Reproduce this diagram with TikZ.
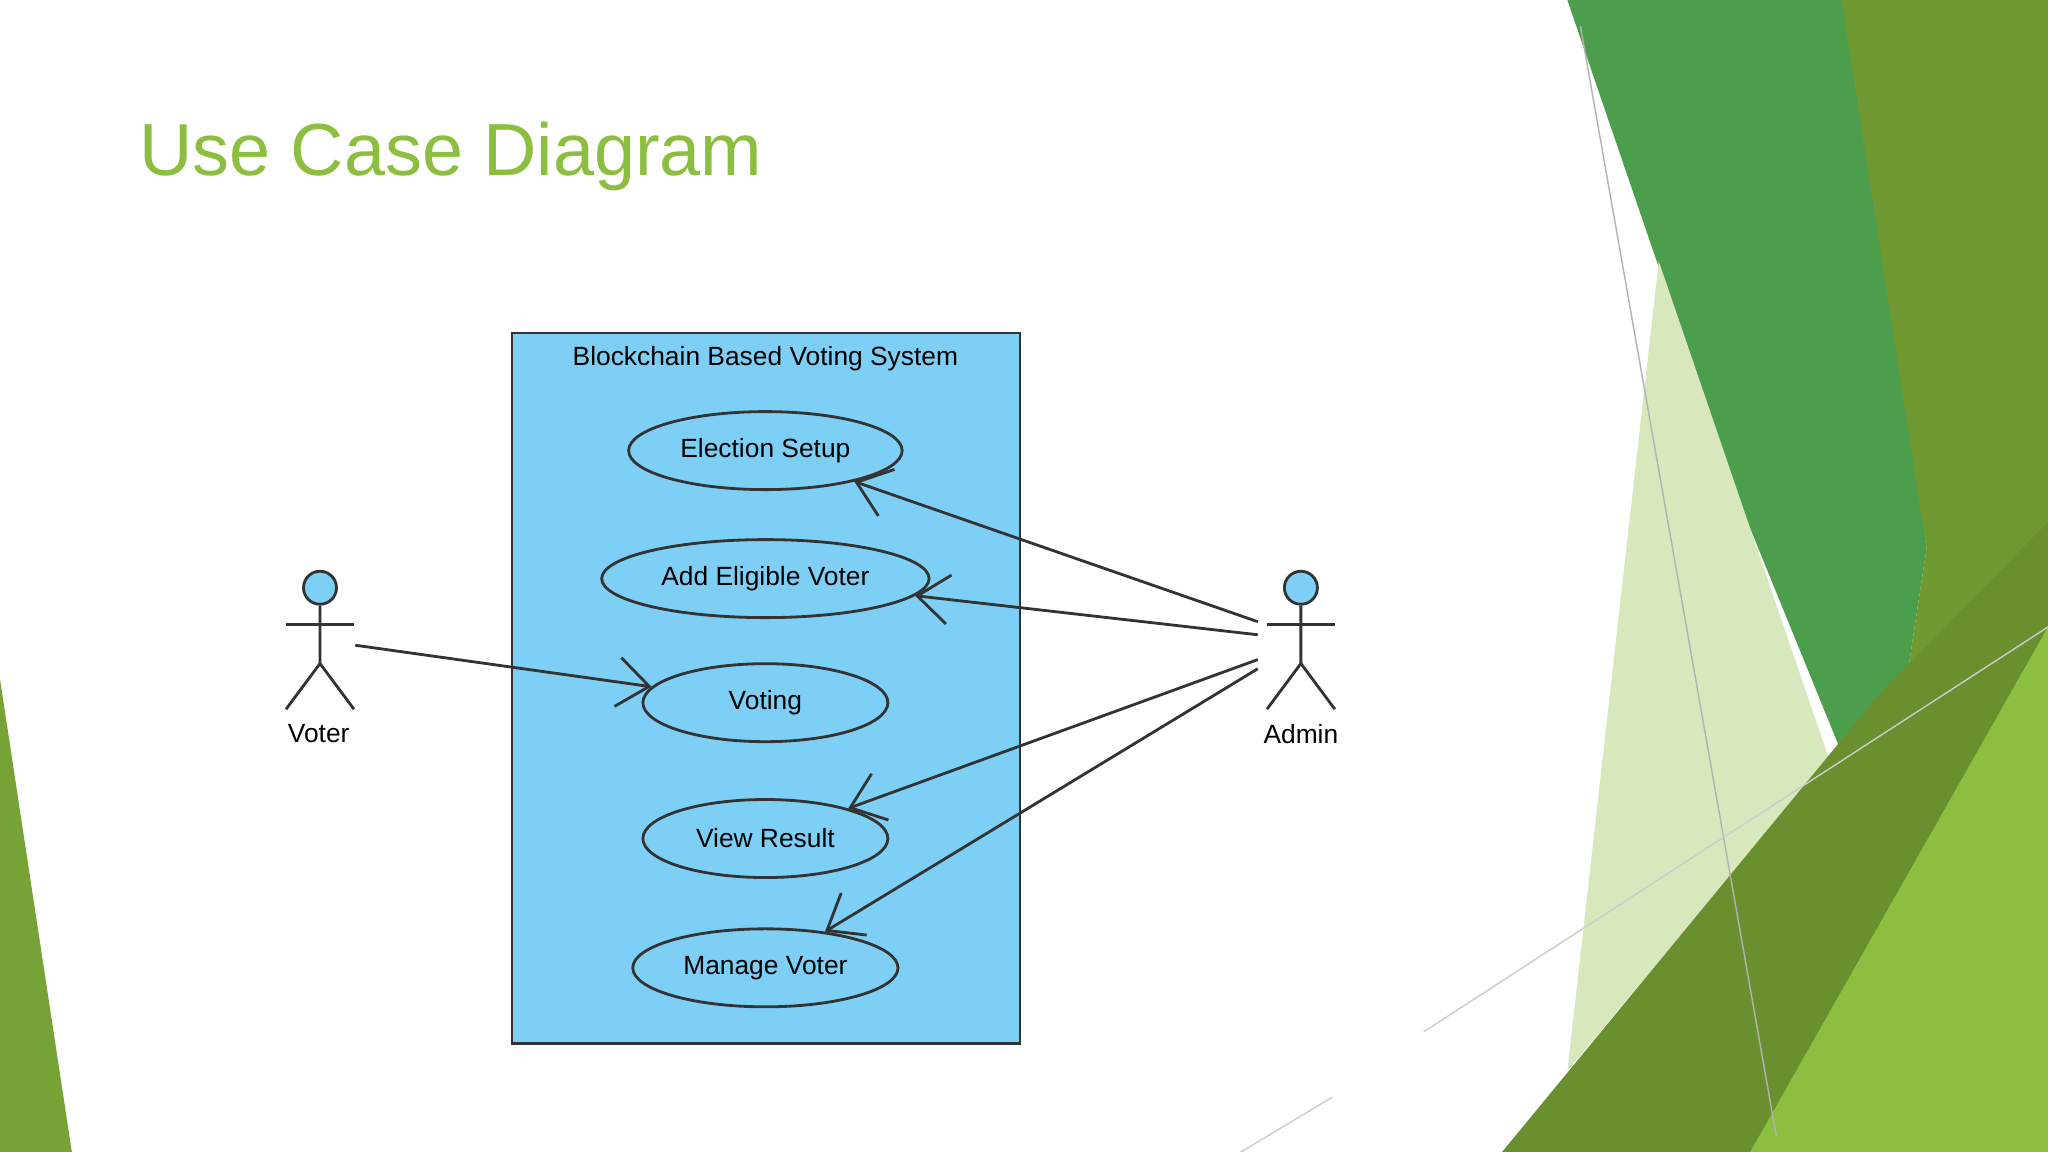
\documentclass[tikz,border=0pt]{standalone}
\usepackage{fontspec}
\setmainfont{Liberation Sans}
\usetikzlibrary{shapes.geometric, arrows.meta}
\definecolor{titlegreen}{HTML}{8CBF3F}
\definecolor{sysblue}{HTML}{7DCFF5}
\tikzset{
usecase/.style={ellipse, draw=black!80, thick, fill=sysblue, minimum width=2.45cm, minimum height=0.78cm, font=\fontsize{7.5}{9}\selectfont},
actorline/.style={draw=black!80, thick},
assoc/.style={draw=black!80, thick, -{Straight Barb[length=9pt, width=14pt]}},
}
\begin{document}
\begin{tikzpicture}[x=0.01306cm, y=-0.01306cm]
\useasboundingbox (0,0) rectangle (1568,882);
\fill[white] (0,0) rectangle (1568,882);
% background shapes
\fill[green!45!black!70!white] (1200,0) -- (1420,0) -- (1475,420) -- (1440,650) -- (1330,380) -- cycle;
\fill[titlegreen!80!black] (1410,0) -- (1568,0) -- (1568,400) -- (1500,580) -- (1440,650) -- (1475,420) -- cycle;
\fill[titlegreen!35] (1270,200) -- (1400,580) -- (1200,820) -- cycle;
\fill[titlegreen!75!black] (1150,882) -- (1440,530) -- (1568,400) -- (1568,882) -- cycle;
\fill[titlegreen] (1340,882) -- (1568,480) -- (1568,882) -- cycle;
\fill[titlegreen!85!black] (0,520) -- (55,882) -- (0,882) -- cycle;
\draw[gray!60, thin] (1210,20) -- (1360,870);
\draw[gray!40, thin] (1090,790) -- (1568,480);
\draw[gray!40, thin] (950,882) -- (1020,840);
% title
\node[anchor=west, text=titlegreen, font=\fontsize{21}{24}\selectfont] (title) at (97,120) {Use Case Diagram};
% system boundary
\draw[thick, draw=black!80, fill=sysblue] (392,255) rectangle (781,799);
\node[font=\fontsize{7.5}{9}\selectfont] (system) at (586,275) {Blockchain Based Voting System};
% use cases
\node[usecase, minimum width=2.09cm] (setup) at (586,345) {Election Setup};
\node[usecase] (eligible) at (586,443) {Add Eligible Voter};
\node[usecase] (voting) at (586,538) {Voting};
\node[usecase] (result) at (586,642) {View Result};
\node[usecase] (manage) at (586,741) {Manage Voter};
% actors
\foreach \name/\x in {voter/245, admin/996} {
  \node[circle, draw=black!80, thick, fill=sysblue, minimum size=0.33cm, inner sep=0pt] (\name head) at (\x,450) {};
  \draw[actorline] (\name head.south) -- (\x,508) -- (\x-26,543);
  \draw[actorline] (\x,508) -- (\x+26,543);
  \draw[actorline] (\x-26,478) -- (\x+26,478);
}
\node[font=\fontsize{7.5}{9}\selectfont] (voterlabel) at (244,562) {Voter};
\node[font=\fontsize{7.5}{9}\selectfont] (adminlabel) at (996,562) {Admin};
\coordinate (voterhand) at (272,494);
\coordinate (adminA) at (963,476);
\coordinate (adminB) at (963,486);
\coordinate (adminC) at (963,505);
\coordinate (adminD) at (963,512);
% associations
\draw[assoc] (voterhand) -- (voting);
\draw[assoc] (adminA) -- (setup);
\draw[assoc] (adminB) -- (eligible);
\draw[assoc] (adminC) -- (result);
\draw[assoc] (adminD) -- (manage);
\end{tikzpicture}
\end{document}
